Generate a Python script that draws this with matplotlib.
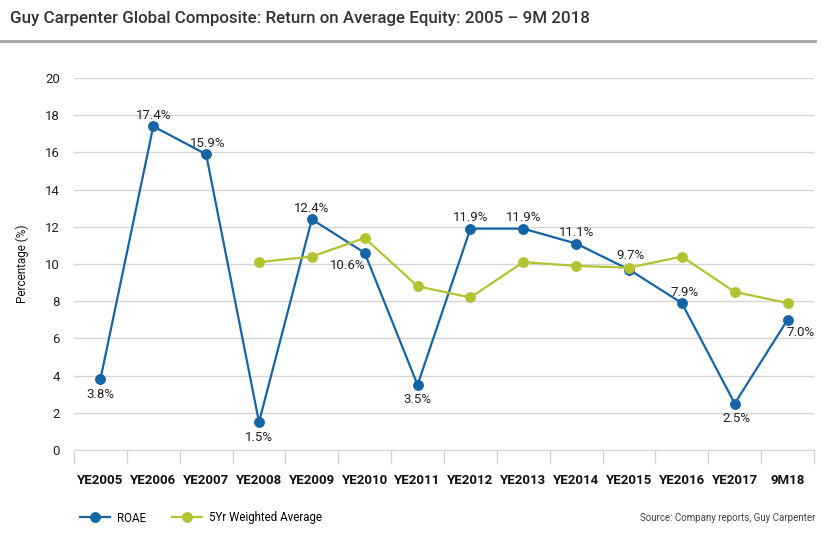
import matplotlib.pyplot as plt
import numpy as np

# Guy Carpenter Global Composite ROAE
categories = ['YE2005', 'YE2006', 'YE2007', 'YE2008', 'YE2009', 'YE2010', 'YE2011',
              'YE2012', 'YE2013', 'YE2014', 'YE2015', 'YE2016', 'YE2017', '9M18']
roae = [3.8, 17.4, 15.9, 1.5, 12.4, 10.6, 3.5, 11.9, 11.9, 11.1, 9.7, 7.9, 2.5, 7.0]
# 5 year weighted average starts at YE2008
avg_categories = categories[3:]
avg_5yr = [10.1, 10.4, 11.4, 8.8, 8.2, 10.1, 9.9, 9.8, 10.4, 8.5, 7.9]
y_ticks = [0, 2, 4, 6, 8, 10, 12, 14, 16, 18, 20]

# where each data label goes: (dx, dy) in pixels
label_pos = {
    'YE2005': (0, -15), 'YE2006': (0, 11), 'YE2007': (2, 11), 'YE2008': (0, -15),
    'YE2009': (0, 11), 'YE2010': (-17, -13), 'YE2011': (0, -15), 'YE2012': (0, 11),
    'YE2013': (0, 11), 'YE2014': (0, 11), 'YE2015': (1, 14), 'YE2016': (3, 11),
    'YE2017': (2, -15), '9M18': (13, -13),
}

BLUE = '#1565a6'
GREEN = '#b3c231'
GRID = '#d4d4d4'

plt.rcParams['font.family'] = ['Roboto', 'DejaVu Sans']

fig = plt.figure(figsize=(8.3, 5.36), dpi=100)
ax = fig.add_axes([74 / 830, 1 - 450 / 536, 740 / 830, 372 / 536])

x = np.arange(len(categories))
x_avg = np.array([categories.index(c) for c in avg_categories])

ax.plot(x, roae, color=BLUE, lw=1.6, marker='o', ms=6.8, label='ROAE', zorder=3)
ax.plot(x_avg, avg_5yr, color=GREEN, lw=1.6, marker='o', ms=6.8,
        label='5Yr Weighted Average', zorder=4)

for i, (cat, val) in enumerate(zip(categories, roae)):
    dx, dy = label_pos[cat]
    ax.annotate(f'{val:.1f}%', (i, val), xytext=(dx, dy), textcoords='offset pixels',
                ha='center', va='center', fontsize=9.5, color='#222222', zorder=5)

ax.set_xlim(-0.5, len(categories) - 0.5)
ax.set_ylim(0, 20)
ax.set_yticks(y_ticks)
ax.set_xticks(x)
ax.set_xticklabels(categories, fontweight='bold', fontsize=9.5, color='#111111')
ax.set_xticks(np.arange(-0.5, len(categories)), minor=True)
ax.tick_params(axis='x', which='major', length=0, pad=17)
ax.tick_params(axis='x', which='minor', length=10, color=GRID, width=1)
ax.tick_params(axis='y', length=0, labelsize=9.5, labelcolor='#222222', pad=10)
ax.grid(axis='y', color=GRID, lw=1)
ax.set_axisbelow(True)
for s in ['top', 'right', 'left']:
    ax.spines[s].set_visible(False)
ax.spines['bottom'].set_color(GRID)
ax.set_ylabel('Percentage (%)', fontsize=8.5, color='#111111', labelpad=12)

fig.text(10 / 830, 1 - 19 / 536, 'Guy Carpenter Global Composite: Return on Average Equity: 2005 \u2013 9M 2018',
         fontsize=12.2, fontweight='medium', color='#333333', va='center', ha='left')
fig.add_artist(plt.Line2D([0, 815 / 830], [1 - 41 / 536] * 2, color='#a0a0a0', lw=2))

fig.legend(loc='center left', bbox_to_anchor=(70 / 830, 1 - 518 / 536), ncol=2,
           frameon=False, fontsize=8.3, handlelength=2.6, columnspacing=2.2, handletextpad=0.6)
fig.text(815 / 830, 1 - 518 / 536, 'Source: Company reports, Guy Carpenter',
         fontsize=7, color='#444444', ha='right', va='center')

fig.savefig('out.png', dpi=100)
